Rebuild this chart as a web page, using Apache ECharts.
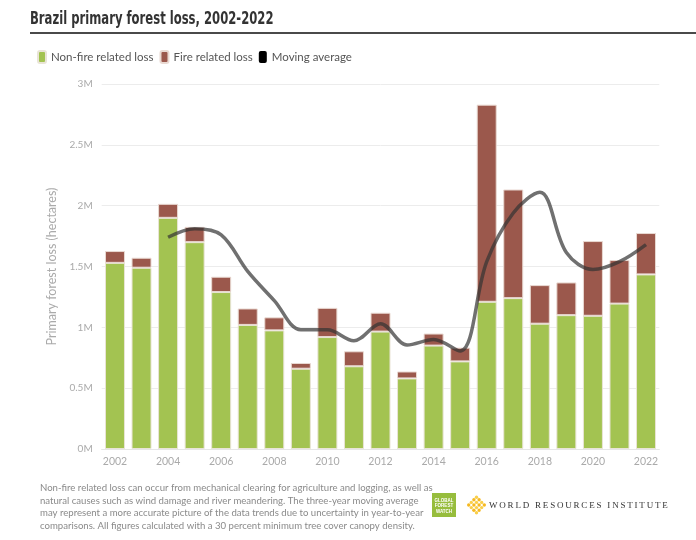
<!DOCTYPE html>
<html>
<head>
<meta charset="utf-8">
<script src="https://cdn.jsdelivr.net/npm/echarts@6/dist/echarts.min.js"></script>
<style>
  html, body { margin: 0; padding: 0; background: #fff; }
  #main { width: 696px; height: 540px; }
</style>
</head>
<body>
<div id="main"></div>
<script>
var years = ['2002','2003','2004','2005','2006','2007','2008','2009','2010','2011','2012',
             '2013','2014','2015','2016','2017','2018','2019','2020','2021','2022'];
// millions of hectares
var nonFire = [1.53, 1.49, 1.90, 1.70, 1.29, 1.02, 0.975, 0.66, 0.92, 0.68, 0.965,
               0.58, 0.85, 0.72, 1.21, 1.24, 1.03, 1.10, 1.095, 1.195, 1.435];
var fire = [0.097, 0.082, 0.115, 0.126, 0.126, 0.135, 0.107, 0.047, 0.24, 0.123, 0.155,
            0.057, 0.099, 0.113, 1.62, 0.893, 0.317, 0.269, 0.614, 0.358, 0.34];
var movingAvg = [null, null, 1.74, 1.81, 1.76, 1.46, 1.22, 0.98, 0.98, 0.89, 1.03,
                 0.855, 0.90, 0.805, 1.54, 1.94, 2.11, 1.615, 1.475, 1.54, 1.68];
var yTicks = [0, 0.5, 1, 1.5, 2, 2.5, 3];

var footer = [
  'Non-fire related loss can occur from mechanical clearing for agriculture and logging, as well as',
  'natural causes such as wind damage and river meandering. The three-year moving average',
  'may represent a more accurate picture of the data trends due to uncertainty in year-to-year',
  'comparisons. All figures calculated with a 30 percent minimum tree cover canopy density.'
];

var myChart = echarts.init(document.getElementById('main'));

var graphics = [
  {
    type: 'text', x: 30, y: 11, scaleX: 0.76,
    style: { text: 'Brazil primary forest loss, 2002-2022', fill: '#333', verticalAlign: 'top',
             font: 'bold 17px "DejaVu Sans Condensed", sans-serif' }
  },
  {
    type: 'line', shape: { x1: 30, y1: 33, x2: 696, y2: 33 },
    style: { stroke: '#4a4a4a', lineWidth: 2 }
  },
  {
    type: 'rect', shape: { x: 432, y: 493, width: 24, height: 24 },
    style: { fill: '#97bd3d' }
  },
  {
    type: 'text', x: 444, y: 498,
    style: { text: 'GLOBAL\nFOREST\nWATCH', fill: '#fff', align: 'center', lineHeight: 5.5,
             font: 'bold 4.5px "Liberation Sans Narrow", sans-serif' }
  },
  {
    type: 'text', x: 489, y: 506,
    style: { text: 'WORLD RESOURCES INSTITUTE'.split('').join('\u2009'), fill: '#333',
             verticalAlign: 'middle', font: '9px "Liberation Serif", "DejaVu Serif", serif' }
  }
];

footer.forEach(function (line, i) {
  graphics.push({
    type: 'text', left: 40, top: 483 + i * 12.7,
    style: { text: line, fill: '#8a8a8a', font: '9.6px Lato, "Open Sans", sans-serif' }
  });
});

// WRI diamond mark
for (var i = 0; i < 4; i++) {
  for (var j = 0; j < 4; j++) {
    graphics.push({
      type: 'circle',
      shape: { cx: 476.5 + (i - j) * 2.6, cy: 505 + (i + j - 3) * 2.6, r: 1.7 },
      style: { fill: (i + j) % 2 ? '#f6b921' : '#f9cf4a' }
    });
  }
}

var option = {
  backgroundColor: '#fff',
  animation: false,
  textStyle: { fontFamily: 'Lato, "Open Sans", sans-serif' },
  legend: {
    left: 32, top: 45,
    icon: 'roundRect',
    itemWidth: 8, itemHeight: 12, itemGap: 6,
    textStyle: { color: '#555', fontSize: 11.5 },
    data: [
      { name: 'Non-fire related loss', itemStyle: { color: '#a3c351' } },
      { name: 'Fire related loss', itemStyle: { color: '#9b584c' } },
      { name: 'Moving average', itemStyle: { color: '#000' } }
    ]
  },
  grid: { left: 101.7, right: 36.7, top: 84, bottom: 91 },
  xAxis: {
    type: 'category',
    data: years,
    axisLine: { lineStyle: { color: '#e6e6e6' } },
    axisTick: { show: false },
    axisLabel: { interval: 1, color: '#aaa', fontSize: 10.5, margin: 7 }
  },
  yAxis: {
    type: 'value',
    min: 0, max: 3, interval: 0.5,
    name: 'Primary forest loss (hectares)',
    nameLocation: 'middle',
    nameGap: 39,
    nameTextStyle: { color: '#aaa', fontSize: 12.5 },
    axisLine: { show: false },
    axisTick: { show: false },
    splitLine: { lineStyle: { color: '#ececec' } },
    axisLabel: {
      color: '#aaa', fontSize: 10, margin: 9,
      formatter: function (v) { return yTicks.indexOf(v) >= 0 ? v + 'M' : ''; }
    }
  },
  series: [
    {
      name: 'Non-fire related loss', type: 'bar', stack: 'loss',
      data: nonFire, barWidth: 20,
      itemStyle: { color: '#a3c351', borderColor: '#e9e4d6', borderWidth: 1 }
    },
    {
      name: 'Fire related loss', type: 'bar', stack: 'loss',
      data: fire, barWidth: 20,
      itemStyle: { color: '#9b584c', borderColor: '#e9d9d2', borderWidth: 1 }
    },
    {
      name: 'Moving average', type: 'line',
      data: movingAvg, smooth: 0.35, showSymbol: false, z: 5,
      lineStyle: { color: '#333', width: 3.5, opacity: 0.7 },
      itemStyle: { color: '#000' }
    }
  ],
  graphic: graphics
};
myChart.setOption(option);
</script>
</body>
</html>
